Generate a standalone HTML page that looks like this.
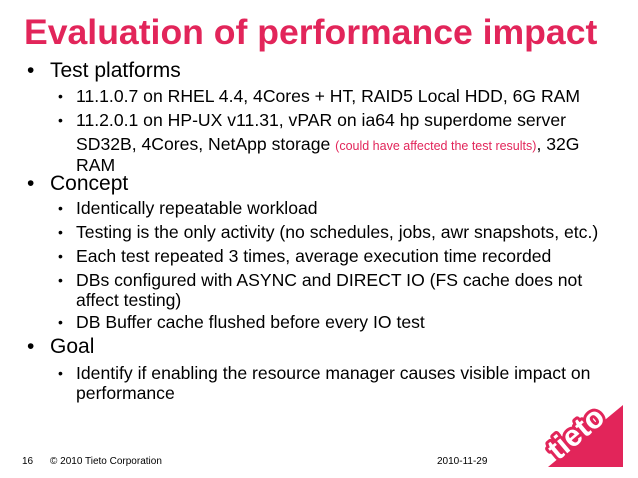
<!DOCTYPE html>
<html><head><meta charset="utf-8">
<style>
body{margin:0;width:638px;height:478px;background:#fff;position:relative;overflow:hidden;font-family:"Liberation Sans",Arial,sans-serif;color:#000}
.t{position:absolute;white-space:nowrap}
.l1{font-size:21px;line-height:24px;left:50px}
.l2{font-size:17.6px;line-height:20px;left:76px}
.b1{position:absolute;font-size:21px;line-height:24px;left:27px}
.b2{position:absolute;font-size:14px;line-height:20px;left:58px}
.red{color:#e2255a}
</style></head><body>
<div class="t red" style="left:24px;top:12px;font-size:35.6px;font-weight:bold;line-height:40px">Evaluation of performance impact</div>

<div class="b1" style="top:59px">•</div><div class="t l1" style="top:59px">Test platforms</div>
<div class="b2" style="top:86px">•</div><div class="t l2" style="top:86px">11.1.0.7 on RHEL 4.4, 4Cores + HT, RAID5 Local HDD, 6G RAM</div>
<div class="b2" style="top:110px">•</div><div class="t l2" style="top:110px">11.2.0.1 on HP-UX v11.31, vPAR on ia64 hp superdome server</div>
<div class="t l2" style="top:134px">SD32B, 4Cores, NetApp storage <span class="red" style="font-size:12.5px">(could have affected the test results)</span>, 32G</div>
<div class="t l2" style="top:155px">RAM</div>

<div class="b1" style="top:172px">•</div><div class="t l1" style="top:172px">Concept</div>
<div class="b2" style="top:198px">•</div><div class="t l2" style="top:198px">Identically repeatable workload</div>
<div class="b2" style="top:222px">•</div><div class="t l2" style="top:222px">Testing is the only activity (no schedules, jobs, awr snapshots, etc.)</div>
<div class="b2" style="top:246px">•</div><div class="t l2" style="top:246px">Each test repeated 3 times, average execution time recorded</div>
<div class="b2" style="top:270px">•</div><div class="t l2" style="top:270px">DBs configured with ASYNC and DIRECT IO (FS cache does not</div>
<div class="t l2" style="top:290px">affect testing)</div>
<div class="b2" style="top:312px">•</div><div class="t l2" style="top:312px">DB Buffer cache flushed before every IO test</div>

<div class="b1" style="top:335px">•</div><div class="t l1" style="top:335px">Goal</div>
<div class="b2" style="top:363px">•</div><div class="t l2" style="top:363px">Identify if enabling the resource manager causes visible impact on</div>
<div class="t l2" style="top:383px">performance</div>

<div class="t" style="left:22px;top:456px;font-size:10px">16</div>
<div class="t" style="left:50px;top:456px;font-size:10px">© 2010 Tieto Corporation</div>
<div class="t" style="left:437px;top:456px;font-size:10px">2010-11-29</div>

<svg style="position:absolute;left:540px;top:385px" width="90" height="90">
<polygon points="8,82 83,20 83,82" fill="#e2255a"/>
<text x="0" y="0" transform="translate(18,76) rotate(-40)" fill="#fff" stroke="#e2255a" stroke-width="6" stroke-linejoin="round" paint-order="stroke" font-family="Liberation Sans" font-weight="bold" font-size="30">tieto</text>
</svg>
</body></html>
